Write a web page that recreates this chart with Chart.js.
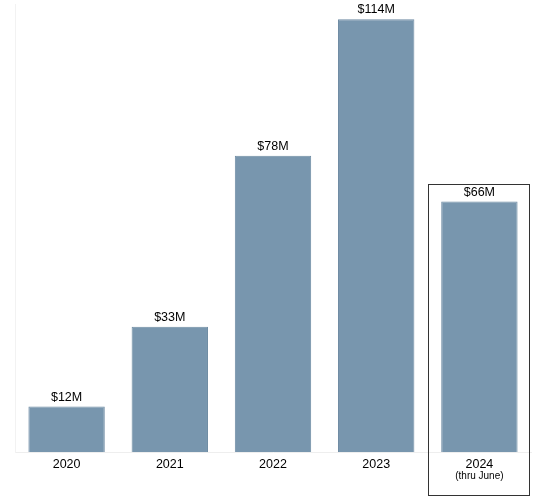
<!DOCTYPE html>
<html>
<head>
<meta charset="utf-8">
<script src="https://cdn.jsdelivr.net/npm/chart.js@4"></script>
<style>
  html, body { margin: 0; padding: 0; background: #fff; }
  #wrap { width: 537px; height: 498px; }
</style>
</head>
<body>
<div id="wrap"><canvas id="myChart" width="537" height="498"></canvas></div>
<script>
const years = ['2020', '2021', '2022', '2023', '2024'];
const amounts = [12, 33, 78, 114, 66];
const valueLabels = ['$12M', '$33M', '$78M', '$114M', '$66M'];
const partialNote = '(thru June)';

const barColor = '#7896ae';
const fontFamily = '"Liberation Sans", Arial, sans-serif';

// labels above bars, the note under 2024 and the box round it
const extras = {
  id: 'extras',
  afterDatasetsDraw(chart) {
    const c = chart.ctx;
    const bars = chart.getDatasetMeta(0).data;
    const area = chart.chartArea;
    c.save();
    c.fillStyle = '#000';
    c.textAlign = 'center';
    c.textBaseline = 'bottom';
    c.font = '12.5px ' + fontFamily;
    bars.forEach((bar, i) => {
      c.fillText(valueLabels[i], bar.x, bar.y - 3);
    });

    const last = bars[bars.length - 1];
    c.font = '10px ' + fontFamily;
    c.textBaseline = 'middle';
    c.fillText(partialNote, last.x, area.bottom + 24);

    c.strokeStyle = '#333';
    c.lineWidth = 1;
    const left = Math.round(last.x - 51) + 0.5;
    const right = Math.round(last.x + 50) + 0.5;
    const top = Math.round(last.y - 17) + 0.5;
    const bottom = Math.round(area.bottom + 43) + 0.5;
    c.strokeRect(left, top, right - left, bottom - top);
    c.restore();
  }
};

new Chart(document.getElementById('myChart'), {
  type: 'bar',
  data: {
    labels: years,
    datasets: [{
      data: amounts,
      backgroundColor: barColor,
      borderColor: '#6e8ba3',
      borderWidth: 1,
      categoryPercentage: 1,
      barPercentage: 0.74
    }]
  },
  options: {
    responsive: false,
    animation: false,
    layout: { padding: { top: 4, left: 7, right: 6, bottom: 21 } },
    plugins: {
      legend: { display: false },
      tooltip: { enabled: false }
    },
    scales: {
      x: {
        grid: { display: false, drawTicks: false, tickLength: 0 },
        border: { display: true, color: '#eeeeee' },
        ticks: { color: '#000', padding: 5, font: { family: fontFamily, size: 12.5 } }
      },
      y: {
        min: 0,
        max: 118,
        grid: { display: false },
        border: { display: true, color: '#f2f2f2' },
        ticks: { display: false }
      }
    }
  },
  plugins: [extras]
});
</script>
</body>
</html>
